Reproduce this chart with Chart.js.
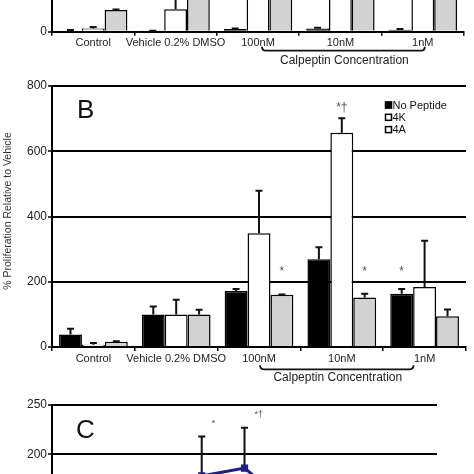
<!DOCTYPE html>
<html>
<head>
<meta charset="utf-8">
<script src="https://cdn.jsdelivr.net/npm/chart.js@4.4.1/dist/chart.umd.min.js"></script>
<style>
  html, body { margin: 0; padding: 0; background: #fff; }
  body { width: 474px; height: 474px; position: relative; overflow: hidden; }
  canvas { position: absolute; left: 0; }
</style>
</head>
<body>
<canvas id="chart-a" width="474" height="310" style="top:-240px"></canvas>
<canvas id="chart-b" width="474" height="320" style="top:70px"></canvas>
<canvas id="chart-c" width="474" height="300" style="top:390px"></canvas>
<script>
// shared categories and series names
const groups = ["Control", "Vehicle 0.2% DMSO", "100nM", "10nM", "1nM"];
const seriesNames = ["No Peptide", "4K", "4A"];
const bracketLabel = "Calpeptin Concentration";
const yTitle = "% Proliferation Relative to Vehicle";

// panel A - only its bottom edge is inside the picture
const aNoPeptide = [3, 2, 8, 10, 6];
const a4K = [10, 69, 420, 560, 450];
const a4A = [66, 240, 380, 330, 300];
const aNoPeptideErr = [5, 3, 10, 12, 8];
const a4KErr = [14, 260, 470, 600, 500];
const a4AErr = [68, 260, 410, 360, 330];
const aTicks = [0, 200, 400, 600, 800];

// panel B
const bNoPeptide = [38, 100, 172, 269, 163];
const b4K = [7, 100, 349, 657, 184];
const b4A = [16, 100, 160, 152, 94];
// tops of the error bars
const bNoPeptideErr = [56, 124, 178, 306, 178];
const b4KErr = [12, 145, 479, 701, 326];
const b4AErr = [18, 114, 161, 163, 115];
const bTicks = [0, 200, 400, 600, 800];
// significance marks: [group, series, text, level]
const bStars = [[2, 2, "*", 239], [3, 1, "*\u2020", 742], [3, 2, "*", 239], [4, 0, "*", 239]];

// panel C - only its top is inside the picture
const cLabels = ["1", "2", "3", "4", "5", "6", "7", "8", "9"];
const cValues = [100, 110, 135, 178, 186, 150, 125, 112, 105];
const cErr = [null, null, null, 218, 227, null, null, null, null];
const cTicks = [0, 50, 100, 150, 200, 250];
const cStars = [[3, "*"], [4, "*\u2020"]];

const FONT = "'Liberation Sans', Arial, sans-serif";
const barColors = ["#000000", "#ffffff", "#d2d2d2"];

function drawErrors(chart, errs) {
  const ctx = chart.ctx, y = chart.scales.y;
  ctx.save();
  ctx.strokeStyle = "#111";
  ctx.lineWidth = 2;
  errs.forEach((arr, di) => {
    const meta = chart.getDatasetMeta(di);
    arr.forEach((top, i) => {
      if (top == null) return;
      const el = meta.data[i];
      const yt = y.getPixelForValue(top);
      ctx.beginPath();
      ctx.moveTo(el.x, el.y);
      ctx.lineTo(el.x, yt);
      ctx.moveTo(el.x - 3.5, yt);
      ctx.lineTo(el.x + 3.5, yt);
      ctx.stroke();
    });
  });
  ctx.restore();
}

function drawBracket(ctx, x1, x2, y, ty) {
  ctx.save();
  ctx.strokeStyle = "#111";
  ctx.lineWidth = 1.8;
  ctx.beginPath();
  ctx.moveTo(x1, y - 4);
  ctx.quadraticCurveTo(x1, y, x1 + 4, y);
  ctx.lineTo(x2 - 4, y);
  ctx.quadraticCurveTo(x2, y, x2, y - 4);
  ctx.stroke();
  ctx.fillStyle = "#222";
  ctx.font = "12px " + FONT;
  ctx.textAlign = "center";
  ctx.textBaseline = "middle";
  ctx.fillText(bracketLabel, (x1 + x2) / 2 + 1, ty);
  ctx.restore();
}

function drawYTitle(ctx, x, y) {
  ctx.save();
  ctx.translate(x, y);
  ctx.rotate(-Math.PI / 2);
  ctx.fillStyle = "#333";
  ctx.font = "10.5px " + FONT;
  ctx.textAlign = "center";
  ctx.textBaseline = "middle";
  ctx.fillText(yTitle, 0, 0);
  ctx.restore();
}

function drawLetter(ctx, text, x, y) {
  ctx.save();
  ctx.fillStyle = "#111";
  ctx.font = "26px " + FONT;
  ctx.textBaseline = "alphabetic";
  ctx.fillText(text, x, y);
  ctx.restore();
}

function barDatasets(a, b, c) {
  return [a, b, c].map((vals, i) => ({
    label: seriesNames[i],
    data: vals,
    backgroundColor: barColors[i],
    borderColor: "#000",
    borderWidth: 1.5,
    categoryPercentage: 0.83,
    barPercentage: 1.0
  }));
}

function axisOptions(ticks, max, xHeight, yWidth, showX) {
  return {
    x: {
      offset: true,
      afterFit: s => { s.height = xHeight; },
      grid: { offset: true, drawOnChartArea: false, color: "#000", tickLength: 4, lineWidth: 1.5 },
      border: { color: "#000", width: 2 },
      ticks: { display: showX, color: "#222", font: { family: FONT, size: 11 }, padding: 1, maxRotation: 0, autoSkip: false }
    },
    y: {
      min: 0, max: max,
      afterFit: s => { s.width = yWidth; },
      afterBuildTicks: s => { s.ticks = ticks.map(v => ({ value: v })); },
      grid: { color: "#000", lineWidth: 2, tickLength: 4, tickWidth: 1.5, tickColor: "#000" },
      border: { color: "#000", width: 2 },
      ticks: { color: "#222", font: { family: FONT, size: 12 }, padding: 1 }
    }
  };
}

function drawStar(ctx, text, x, y, size, align) {
  ctx.save();
  ctx.fillStyle = "#555";
  ctx.font = size + "px " + FONT;
  ctx.textAlign = align;
  ctx.textBaseline = "middle";
  ctx.fillText(text, x, y + size * 0.22);
  ctx.restore();
}

// ---- panel A ----
new Chart(document.getElementById("chart-a"), {
  type: "bar",
  data: { labels: groups, datasets: barDatasets(aNoPeptide, a4K, a4A) },
  options: {
    responsive: false, animation: false,
    layout: { padding: { left: 0, right: 10, top: 10, bottom: 0 } },
    plugins: { legend: { display: false }, tooltip: { enabled: false } },
    scales: axisOptions(aTicks, 800, 38.3, 52, true)
  },
  plugins: [{
    id: "extrasA",
    afterDatasetsDraw(chart) {
      drawErrors(chart, [aNoPeptideErr, a4KErr, a4AErr]);
      const x = chart.scales.x;
      drawBracket(chart.ctx, x.getPixelForValue(2) + 4, x.getPixelForValue(4) + 2, 290.7, 301);
    }
  }]
});

// ---- panel B ----
new Chart(document.getElementById("chart-b"), {
  type: "bar",
  data: { labels: groups, datasets: barDatasets(bNoPeptide, b4K, b4A) },
  options: {
    responsive: false, animation: false,
    layout: { padding: { left: 0, right: 8, top: 16, bottom: 0 } },
    plugins: { legend: { display: false }, tooltip: { enabled: false } },
    scales: axisOptions(bTicks, 800, 43, 52, true)
  },
  plugins: [{
    id: "extrasB",
    afterDatasetsDraw(chart) {
      const ctx = chart.ctx, y = chart.scales.y, x = chart.scales.x;
      drawErrors(chart, [bNoPeptideErr, b4KErr, b4AErr]);
      // significance marks
      bStars.forEach(([g, s, t, lvl]) => {
        const el = chart.getDatasetMeta(s).data[g];
        drawStar(ctx, t, el.x, y.getPixelForValue(lvl), 12, "center");
      });
      // legend
      ctx.save();
      ctx.font = "11px " + FONT;
      ctx.textBaseline = "middle";
      seriesNames.forEach((name, i) => {
        const ly = 35 + i * 12.3;
        ctx.fillStyle = i === 0 ? "#000" : "#fff";
        ctx.fillRect(385, ly - 3.5, 7, 7);
        ctx.strokeStyle = "#000";
        ctx.lineWidth = 1.5;
        ctx.strokeRect(385.5, ly - 3, 6, 6);
        ctx.fillStyle = "#111";
        ctx.fillText(name, 392.5, ly + 0.5);
      });
      ctx.restore();
      drawLetter(ctx, "B", 77, 47.7);
      drawYTitle(ctx, 8, 141);
      drawBracket(ctx, x.getPixelForValue(2) + 1, x.getPixelForValue(4) - 11, 299.3, 308);
    }
  }]
});

// ---- panel C ----
new Chart(document.getElementById("chart-c"), {
  type: "line",
  data: {
    labels: cLabels,
    datasets: [{
      label: "C",
      data: cValues,
      borderColor: "#1c1c8c",
      backgroundColor: "#1c1c8c",
      borderWidth: 3,
      pointRadius: 3,
      pointStyle: "rect",
      tension: 0
    }]
  },
  options: {
    responsive: false, animation: false,
    layout: { padding: { left: 0, right: 37, top: 15, bottom: 0 } },
    plugins: { legend: { display: false }, tooltip: { enabled: false } },
    scales: axisOptions(cTicks, 250, 38.5, 52, false)
  },
  plugins: [{
    id: "extrasC",
    beforeDatasetsDraw(chart) {
      drawErrors(chart, [cErr]);
    },
    afterDatasetsDraw(chart) {
      const ctx = chart.ctx, y = chart.scales.y;
      const meta = chart.getDatasetMeta(0);
      cStars.forEach(([i, t]) => {
        const el = meta.data[i];
        drawStar(ctx, t, el.x + 10, y.getPixelForValue(cErr[i]) - 15, 9, "left");
      });
      drawLetter(ctx, "C", 76, 48.3);
      drawYTitle(ctx, 18, 175);
    }
  }]
});
</script>
</body>
</html>
